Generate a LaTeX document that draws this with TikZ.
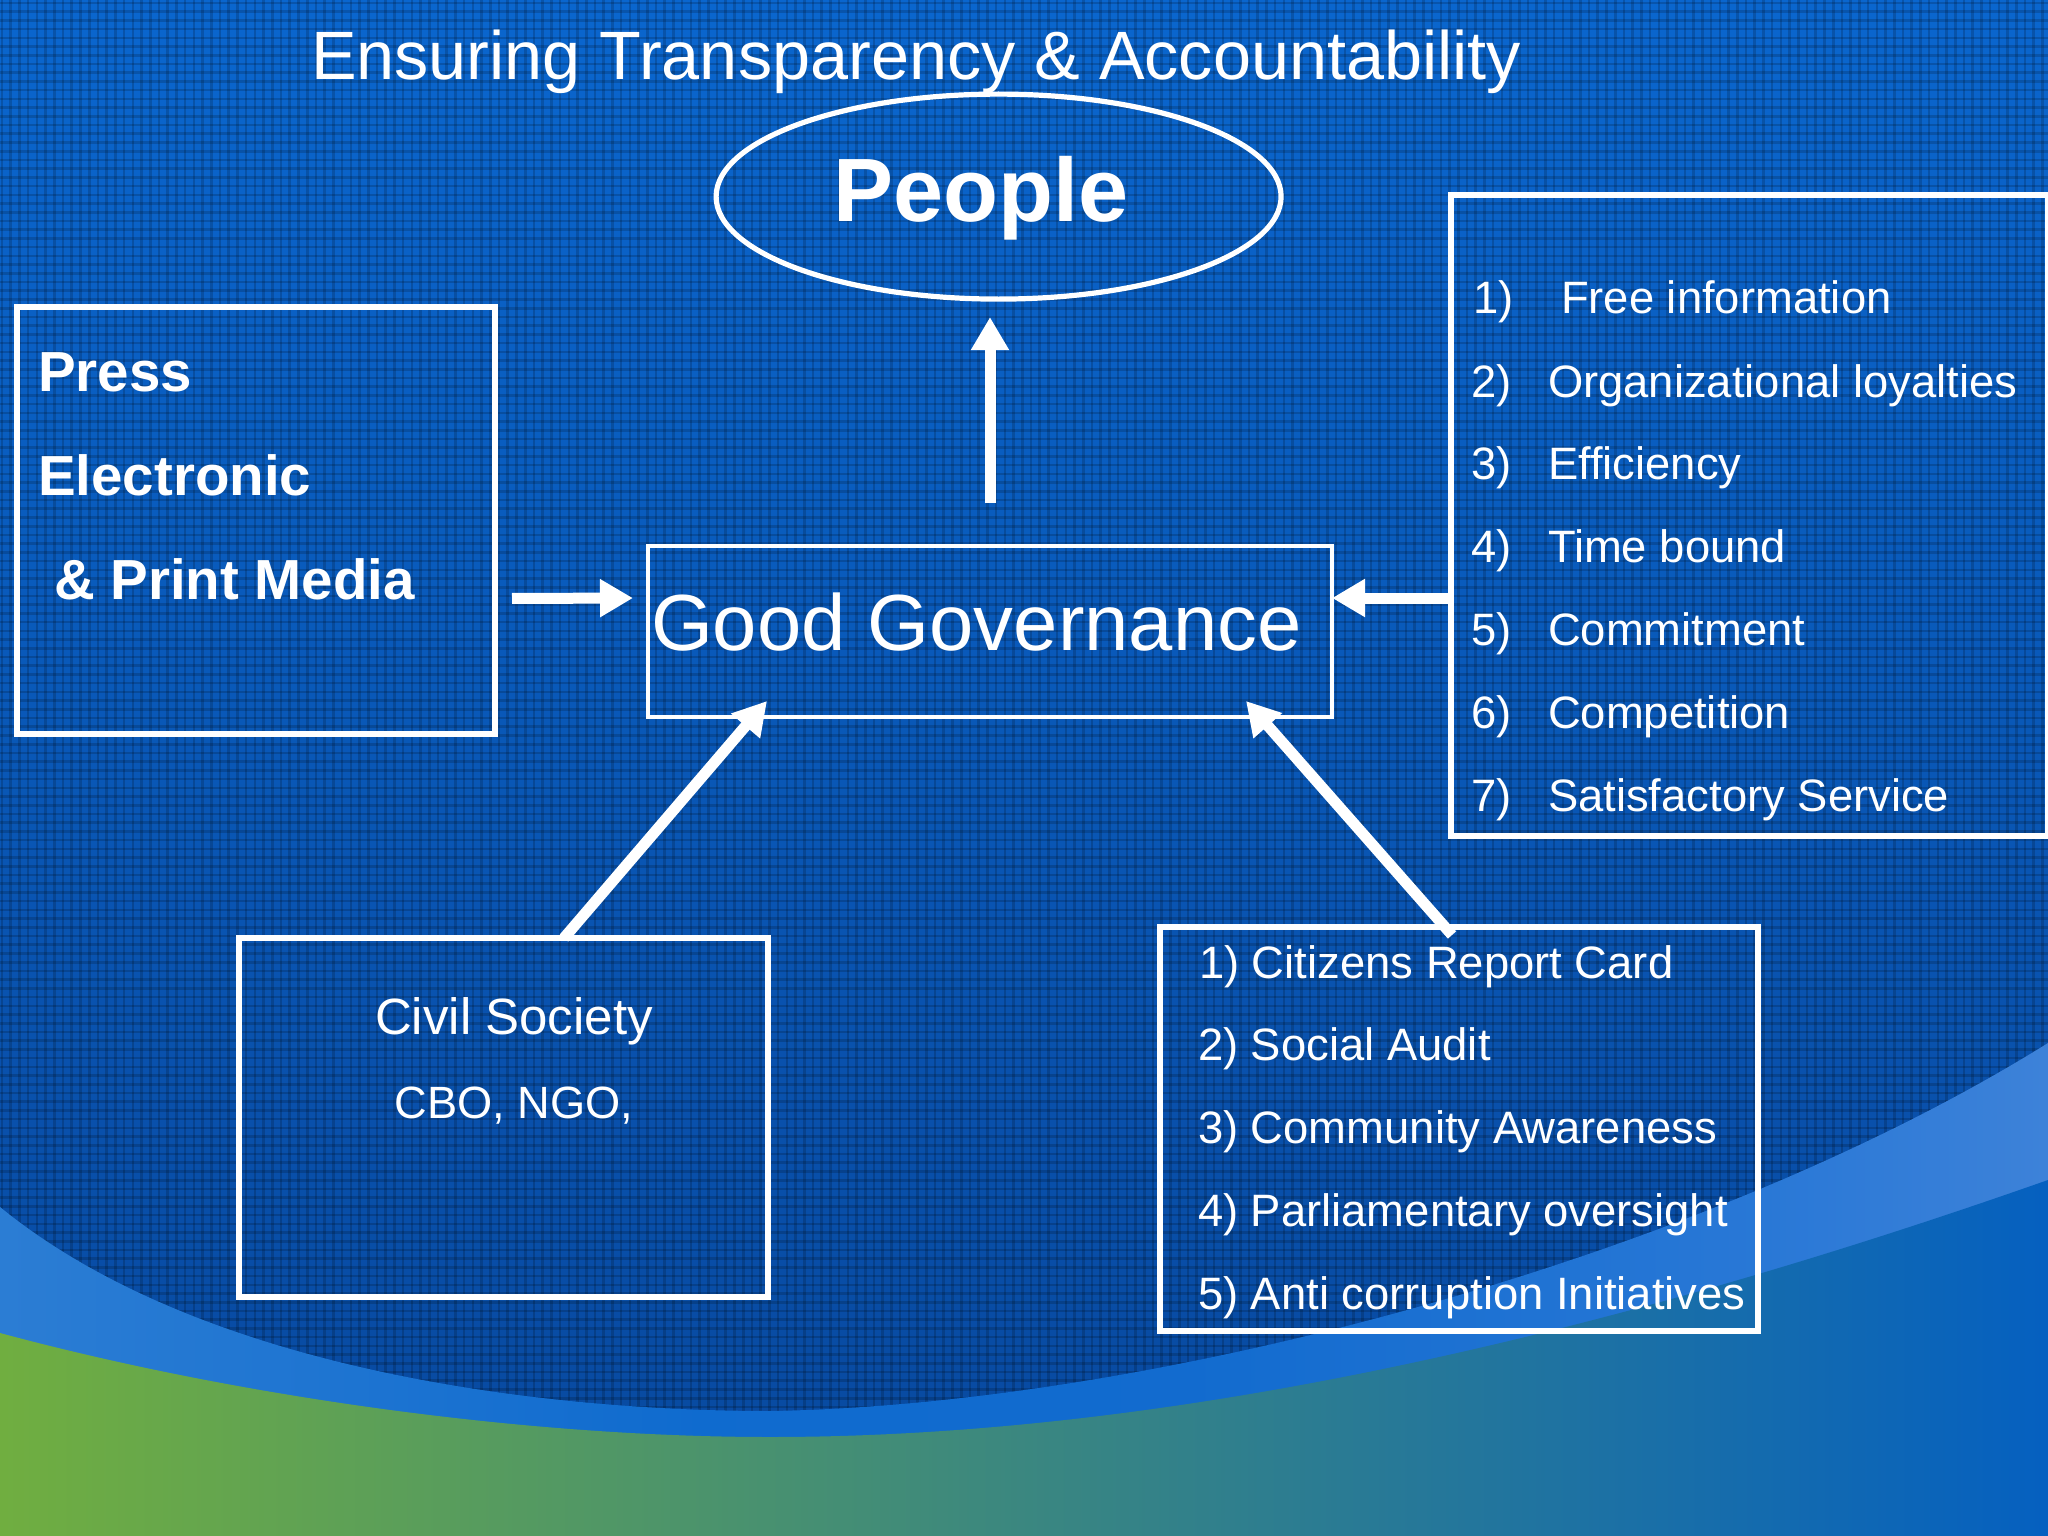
\documentclass[tikz,border=0pt]{standalone}
\usepackage{fontspec}
\setmainfont{Liberation Sans}
\usetikzlibrary{arrows.meta,shapes.geometric}
\pgfdeclarehorizontalshading{bandshade}{100bp}{rgb(0bp)=(.17,.49,.83);rgb(25bp)=(.17,.49,.83);rgb(42bp)=(.06,.42,.81);rgb(54bp)=(.07,.42,.81);rgb(68bp)=(.16,.47,.84);rgb(75bp)=(.24,.51,.85);rgb(100bp)=(.24,.51,.85)}
\definecolor{bgtop}{RGB}{10,102,206}
\definecolor{bgbot}{RGB}{8,72,158}
\definecolor{greenl}{RGB}{112,174,64}
\definecolor{bluer}{RGB}{5,96,192}
\tikzset{
  boxs/.style={draw=white,line width=5.2pt,inner sep=0pt,outer sep=0pt,rectangle},
  conn/.style={draw=white,line width=11pt,-{Triangle[length=33pt,width=36pt]}},
  txt/.style={text=white,inner sep=0pt,outer sep=0pt,anchor=base west},
  itemf/.style={txt,font=\fontsize{45.4}{50}\selectfont},
  pressf/.style={txt,font=\fontsize{56.5}{60}\selectfont\bfseries},
}
\begin{document}
\begin{tikzpicture}[x=1pt,y=-1pt]
\useasboundingbox (0,0) rectangle (2048,1536);
\clip (0,0) rectangle (2048,1536);
\shade[top color=bgtop,bottom color=bgbot] (0,0) rectangle (2048,1536);
\begin{scope}[black,opacity=.17,line width=2.6pt]
\foreach \i in {0,...,235} \draw ({\i*8.72+2},0) -- ({\i*8.72+2},1536);
\foreach \i in {0,...,176} \draw (0,{\i*8.72+3}) -- (2048,{\i*8.72+3});
\end{scope}
\shade[shading=bandshade] (0,1207) .. controls (200,1370) and (540,1411) .. (770,1411) .. controls (1150,1405) and (1700,1260) .. (2048,1043) -- (2048,1536) -- (0,1536) -- cycle;
\shade[left color=greenl,right color=bluer] (0,1333) .. controls (230,1395) and (520,1437) .. (770,1437) .. controls (1200,1437) and (1650,1320) .. (2048,1180) -- (2048,1536) -- (0,1536) -- cycle;

% boxes
\node[boxs,ellipse,minimum width=565pt,minimum height=205pt] (people) at (998.6,196.6) {};
\node[boxs,line width=4pt,minimum width=684pt,minimum height=171pt] (gg) at (990,631.5) {};
\node[boxs,minimum width=478pt,minimum height=427pt] (press) at (256,520.5) {};
\node[boxs,minimum width=597pt,minimum height=641pt] (list) at (1749.5,515.5) {};
\node[boxs,minimum width=529pt,minimum height=359pt] (civil) at (503.5,1117.5) {};
\node[boxs,minimum width=598pt,minimum height=404pt] (report) at (1459,1129) {};

% connectors
\draw[conn,shorten <=43pt,shorten >=18pt] (gg.north) -- (gg.north |- people.south);
\draw[conn,shorten <=17pt,shorten >=15pt] ([yshift=-78pt]press.east) -- ([yshift=33.5pt]gg.west);
\draw[conn] ([yshift=-82.5pt]list.west) -- ([yshift=33.5pt]gg.east);
\draw[conn] ([xshift=60.5pt]civil.north) -- ([xshift=-223pt,yshift=16pt]gg.south);
\draw[conn] ([xshift=-7pt,yshift=-8pt]report.north) -- ([xshift=256pt,yshift=16pt]gg.south);

% texts
\node[txt,font=\fontsize{68.4}{72}\selectfont] (title) at (311,80) {Ensuring Transparency \& Accountability};
\node[txt,font=\fontsize{90}{94}\selectfont\bfseries] (ptext) at (833,221) {People};
\node[txt,font=\fontsize{79.6}{84}\selectfont] (gtext) at (651,650) {Good Governance};
\node[pressf] (p1) at (38,391) {Press};
\node[pressf] (p2) at (38,495) {Electronic};
\node[pressf] (p3) at (54,599) {\& Print Media};
\node[itemf] (n1) at (1473,313.5) {1)};
\node[itemf] (t1) at (1561,313.5) {Free information};
\node[itemf] (n2) at (1471,397) {2)};
\node[itemf] (t2) at (1548,397) {Organizational loyalties};
\node[itemf] (n3) at (1471,479) {3)};
\node[itemf] (t3) at (1548,479) {Efficiency};
\node[itemf] (n4) at (1471,562) {4)};
\node[itemf] (t4) at (1548,562) {Time bound};
\node[itemf] (n5) at (1471,645) {5)};
\node[itemf] (t5) at (1548,645) {Commitment};
\node[itemf] (n6) at (1471,728) {6)};
\node[itemf] (t6) at (1548,728) {Competition};
\node[itemf] (n7) at (1471,811) {7)};
\node[itemf] (t7) at (1548,811) {Satisfactory Service};
\node[itemf] (r1) at (1199,978) {1) Citizens Report Card};
\node[itemf] (r2) at (1198,1060.5) {2) Social Audit};
\node[itemf] (r3) at (1198,1143.5) {3) Community Awareness};
\node[itemf] (r4) at (1198,1226.5) {4) Parliamentary oversight};
\node[itemf] (r5) at (1198,1309.5) {5) Anti corruption Initiatives};
\node[txt,anchor=base,font=\fontsize{51}{55}\selectfont] (c1) at (514,1034) {Civil Society};
\node[txt,anchor=base,font=\fontsize{45.2}{50}\selectfont] (c2) at (514,1118) {CBO, NGO,};
\end{tikzpicture}
\end{document}
